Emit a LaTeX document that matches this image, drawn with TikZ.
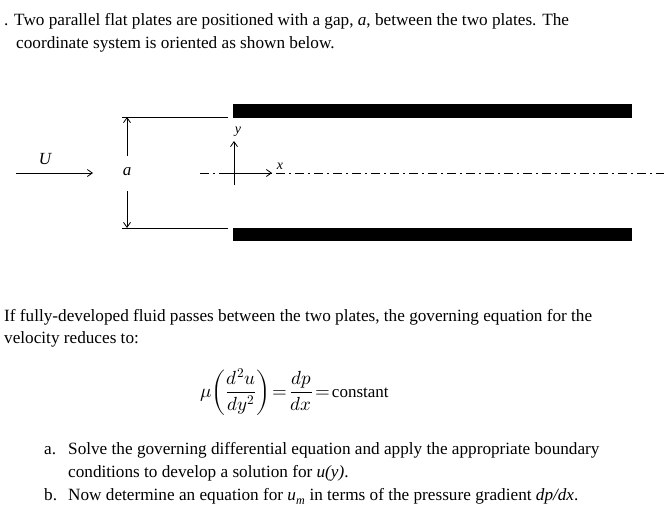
\documentclass[tikz,border=0pt]{standalone}
\usepackage{fontspec}
\setmainfont{Liberation Serif}
\usepackage{amsmath}
\usepackage{unicode-math}
\setmathfont{Latin Modern Math}
\usetikzlibrary{arrows.meta}
\begin{document}
\begin{tikzpicture}[x=1pt,y=-1pt,
  txt/.style={anchor=base west,inner sep=0pt,font=\fontsize{17.2}{22}\selectfont},
  lab/.style={font=\itshape\fontsize{17}{17}\selectfont,inner sep=1pt},
  plate/.style={fill=black},
  thin/.style={line width=0.8pt},
  arr/.style={thin,-{Straight Barb[length=5pt,width=7pt]}}]
\useasboundingbox (0,0) rectangle (664,514);
\node[txt] (t1) at (4,25) {. Two parallel flat plates are positioned with a gap, \textit{a}, between the two plates. The};
\node[txt] (t2) at (16,48) {coordinate system is oriented as shown below.};
\fill[plate] (233,104) rectangle (632,118);
\fill[plate] (233,228) rectangle (632,241);
\draw[thin] (122,117) -- (228,117);
\draw[thin] (122,228) -- (228,228);
\node[lab] (a) at (127,172) {a};
\coordinate (at) at (127,117);
\coordinate (ab) at (127,228);
\draw[arr] (127,156) -- (at);
\draw[arr] (127,191) -- (ab);
\coordinate (u0) at (16,173);
\coordinate (u1) at (93,173);
\draw[arr] (u0) -- (u1);
\node[lab] (U) at (45,159) {U};
\coordinate (o) at (234,173);
\draw[thin,dash pattern=on 9pt off 4pt on 2pt off 4pt] (200,173) -- (664,173);
\draw[arr] (234,185) -- (234,141);
\draw[arr] (220,173) -- (272,173);
\node[lab,font=\itshape\fontsize{14}{14}\selectfont] (y) at (238,132) {y};
\node[lab,font=\itshape\fontsize{14}{14}\selectfont] (x) at (280,166) {x};
\node[txt] (t3) at (4,321) {If fully-developed fluid passes between the two plates, the governing equation for the};
\node[txt] (t4) at (4,343) {velocity reduces to:};
\node[font=\fontsize{19}{21}\selectfont,anchor=west,inner sep=0pt] (eq) at (200,392) {$\displaystyle\mu\!\left(\frac{d^2u}{dy^2}\right)\!=\!\frac{dp}{dx}\!=\!\text{\fontsize{17}{17}\selectfont constant}$};
\node[txt] (a1) at (44,454) {a.};
\node[txt] (a2) at (68,454) {Solve the governing differential equation and apply the appropriate boundary};
\node[txt] (a3) at (68,477) {conditions to develop a solution for \textit{u(y)}.};
\node[txt] (b1) at (44,500) {b.};
\node[txt] (b2) at (68,500) {Now determine an equation for \textit{u}\textsubscript{\textit{m}} in terms of the pressure gradient \textit{dp/dx}.};
\end{tikzpicture}
\end{document}
